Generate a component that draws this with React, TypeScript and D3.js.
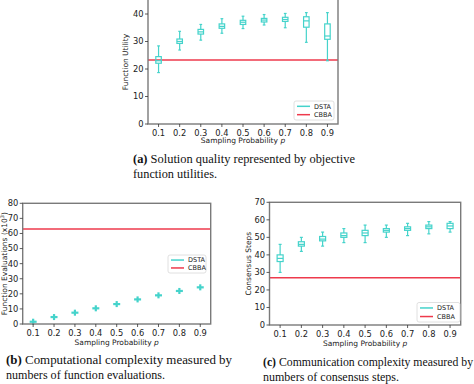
import React from 'react';
import * as d3 from 'd3';

const probs = [0.1, 0.2, 0.3, 0.4, 0.5, 0.6, 0.7, 0.8, 0.9];

// (a) function utility, boxplot stats
const utilMed = [23, 30, 33.5, 35.5, 37, 37.8, 38, 37.5, 32];
const utilQ1 = [22.1, 29.3, 32.7, 34.8, 36.2, 37.1, 37.3, 35.2, 30.8];
const utilQ3 = [24.5, 30.9, 34.4, 36.4, 37.7, 38.4, 38.8, 39, 36.4];
const utilLo = [18.7, 26.9, 30.5, 33, 34.7, 36, 35, 29.7, 23];
const utilHi = [28.4, 33.7, 36.2, 38.3, 39.2, 39.8, 40.2, 40.5, 40.5];
const cbbaUtil = 23.3;

// (b) function evaluations (x10^3)
const evalMed = [1.5, 4.6, 7.5, 10.4, 13.2, 16.3, 19.0, 21.9, 24.3];
const evalLo = [-0.5, 2.6, 5.5, 8.4, 11.2, 14.3, 17.0, 19.9, 22.3];
const evalHi = [3.5, 6.6, 9.5, 12.4, 15.2, 18.3, 21.0, 23.9, 26.3];
const cbbaEval = 63;

// (c) consensus steps
const stepsMed = [38, 46, 49, 51, 52.5, 54, 55, 56, 56.5];
const stepsQ1 = [36.2, 45, 48, 50, 51, 53, 54, 55, 55];
const stepsQ3 = [40, 47.5, 50.5, 52.5, 54, 55, 56, 57, 58];
const stepsLo = [30, 42, 45, 47, 47, 50, 51, 52, 53];
const stepsHi = [46, 50, 53, 55, 57, 57, 58, 59, 59];
const cbbaSteps = 27;

const utilTicks = [0, 10, 20, 30, 40];
const evalTicks = [0, 10, 20, 30, 40, 50, 60, 70, 80];
const stepsTicks = [0, 10, 20, 30, 40, 50, 60, 70];

const TEAL = '#45d3cb';
const RED = '#ee3a4c';
const FRAME = '#7a7a7a';
const SANS = 'DejaVu Sans, sans-serif';
const SERIF = 'Liberation Serif, DejaVu Serif, serif';

interface PanelProps {
  left: number; right: number; top: number; bottom: number;
  yScale: d3.ScaleLinear<number, number>;
  xScale: d3.ScaleLinear<number, number>;
  yTicks: number[];
  yLabel: React.ReactNode;
  yLabelX: number;
  xLabelY: number;
  cbba: number;
  boxes: { x: number; med: number; q1?: number; q3?: number; lo: number; hi: number }[];
  boxW: number;
  legend: { x: number; y: number; w: number; h: number };
  plus?: boolean;
}

const Panel: React.FC<PanelProps> = (p) => {
  const { xScale: x, yScale: y } = p;
  const midY = (Math.max(p.top, 0) + p.bottom) / 2;
  return (
    <g>
      {/* CBBA line */}
      <line x1={p.left} x2={p.right} y1={y(p.cbba)} y2={y(p.cbba)} stroke={RED} strokeWidth={1.5} />
      {/* DSTA boxes */}
      {p.boxes.map((b, i) => {
        const cx = x(b.x);
        const cap = p.boxW * 0.5;
        if (p.plus) {
          return (
            <g key={i} stroke={TEAL} strokeWidth={2.2}>
              <line x1={cx} x2={cx} y1={y(b.lo)} y2={y(b.hi)} />
              <line x1={cx - p.boxW / 2} x2={cx + p.boxW / 2} y1={y(b.med)} y2={y(b.med)} />
            </g>
          );
        }
        return (
          <g key={i} stroke={TEAL} strokeWidth={1.2} fill="none">
            <line x1={cx} x2={cx} y1={y(b.hi)} y2={y(b.q3!)} />
            <line x1={cx} x2={cx} y1={y(b.q1!)} y2={y(b.lo)} />
            <line x1={cx - cap / 2} x2={cx + cap / 2} y1={y(b.hi)} y2={y(b.hi)} />
            <line x1={cx - cap / 2} x2={cx + cap / 2} y1={y(b.lo)} y2={y(b.lo)} />
            <rect x={cx - p.boxW / 2} y={y(b.q3!)} width={p.boxW} height={y(b.q1!) - y(b.q3!)} />
            <line x1={cx - p.boxW / 2} x2={cx + p.boxW / 2} y1={y(b.med)} y2={y(b.med)} />
          </g>
        );
      })}
      {/* frame */}
      <rect x={p.left} y={p.top} width={p.right - p.left} height={p.bottom - p.top}
        fill="none" stroke={FRAME} strokeWidth={1.4} />
      {/* y ticks */}
      {p.yTicks.map(t => (
        <g key={t}>
          <line x1={p.left - 3} x2={p.left} y1={y(t)} y2={y(t)} stroke="#333" strokeWidth={0.8} />
          <text x={p.left - 4.5} y={y(t)} dy="0.35em" textAnchor="end" fontSize={8.3} fontFamily={SANS} fill="#222">{t}</text>
        </g>
      ))}
      {/* x ticks */}
      {probs.map((v, i) => {
        const px = x(p.boxes[i].x);
        return (
          <g key={v}>
            <line x1={px} x2={px} y1={p.bottom} y2={p.bottom + 3} stroke="#333" strokeWidth={0.8} />
            <text x={px} y={p.bottom + 11.5} textAnchor="middle" fontSize={8.3} fontFamily={SANS} fill="#222">{v.toFixed(1)}</text>
          </g>
        );
      })}
      <text x={(p.left + p.right) / 2} y={p.xLabelY} textAnchor="middle" fontSize={7.5} fontFamily={SANS} fill="#222">
        Sampling Probability <tspan fontStyle="italic">p</tspan>
      </text>
      <text transform={`translate(${p.yLabelX},${midY}) rotate(-90)`} textAnchor="middle" fontSize={7.5} fontFamily={SANS} fill="#222">
        {p.yLabel}
      </text>
      {/* legend */}
      <g>
        <rect x={p.legend.x} y={p.legend.y} width={p.legend.w} height={p.legend.h} rx={2}
          fill="white" stroke="#d8d8d8" strokeWidth={0.8} />
        <line x1={p.legend.x + 3} x2={p.legend.x + 16} y1={p.legend.y + p.legend.h * 0.28} y2={p.legend.y + p.legend.h * 0.28} stroke={TEAL} strokeWidth={1.5} />
        <line x1={p.legend.x + 3} x2={p.legend.x + 16} y1={p.legend.y + p.legend.h * 0.72} y2={p.legend.y + p.legend.h * 0.72} stroke={RED} strokeWidth={1.5} />
        <text x={p.legend.x + 20} y={p.legend.y + p.legend.h * 0.28} dy="0.35em" fontSize={6.5} fontFamily={SANS} fill="#222">DSTA</text>
        <text x={p.legend.x + 20} y={p.legend.y + p.legend.h * 0.72} dy="0.35em" fontSize={6.5} fontFamily={SANS} fill="#222">CBBA</text>
      </g>
    </g>
  );
};

const Caption: React.FC<{ x: number; y: number; tag: string; line1: string; line2: string; w1: number; w2: number }> = (c) => (
  <g fontFamily={SERIF} fontSize={11.5} fill="#111">
    <text x={c.x} y={c.y} textLength={c.w1} lengthAdjust="spacingAndGlyphs">
      <tspan fontWeight="bold">{c.tag}</tspan> {c.line1}
    </text>
    <text x={c.x} y={c.y + 15.5} textLength={c.w2} lengthAdjust="spacingAndGlyphs">{c.line2}</text>
  </g>
);

export default function App() {
  // (a)
  const aLeft = 148, aRight = 338, aBottom = 124, aTop = -6;
  const aX = d3.scaleLinear().domain([0.5, 9.5]).range([aLeft, aRight]);
  const aY = d3.scaleLinear().domain([0, 40]).range([aBottom, 14]);
  const aBoxes = probs.map((_, i) => ({ x: i + 1, med: utilMed[i], q1: utilQ1[i], q3: utilQ3[i], lo: utilLo[i], hi: utilHi[i] }));

  // (b)
  const bLeft = 22.7, bRight = 210.7, bBottom = 324, bTop = 203.3;
  const bX = d3.scaleLinear().domain([0.05, 0.95]).range([bLeft, bRight]);
  const bY = d3.scaleLinear().domain([0, 80]).range([bBottom, bTop]);
  const bBoxes = probs.map((v, i) => ({ x: v, med: evalMed[i], lo: evalLo[i], hi: evalHi[i] }));

  // (c)
  const cLeft = 269.5, cRight = 460.7, cBottom = 325, cTop = 202.3;
  const cX = d3.scaleLinear().domain([0.5, 9.5]).range([cLeft, cRight]);
  const cY = d3.scaleLinear().domain([0, 70]).range([cBottom, cTop]);
  const cBoxes = probs.map((_, i) => ({ x: i + 1, med: stepsMed[i], q1: stepsQ1[i], q3: stepsQ3[i], lo: stepsLo[i], hi: stepsHi[i] }));

  return (
    <svg width={474} height={384} style={{ position: 'absolute', left: 0, top: 0, background: 'white' }}>
      <Panel left={aLeft} right={aRight} top={aTop} bottom={aBottom} xScale={aX} yScale={aY}
        yTicks={utilTicks} yLabel="Function Utility" yLabelX={128} xLabelY={143}
        cbba={cbbaUtil} boxes={aBoxes} boxW={5.5}
        legend={{ x: 294, y: 101, w: 40, h: 19 }} />
      <Panel left={bLeft} right={bRight} top={bTop} bottom={bBottom} xScale={bX} yScale={bY}
        yTicks={evalTicks} yLabel={<>Function Evaluations (x10<tspan dy="-3" fontSize={5}>3</tspan><tspan dy="3">)</tspan></>}
        yLabelX={7} xLabelY={345}
        cbba={cbbaEval} boxes={bBoxes} boxW={7}
        plus
        legend={{ x: 168, y: 255, w: 38, h: 18 }} />
      <Panel left={cLeft} right={cRight} top={cTop} bottom={cBottom} xScale={cX} yScale={cY}
        yTicks={stepsTicks} yLabel="Consensus Steps" yLabelX={251} xLabelY={346}
        cbba={cbbaSteps} boxes={cBoxes} boxW={6}
        legend={{ x: 417, y: 302.5, w: 43, h: 19.5 }} />
      <Caption x={133} y={162.5} tag="(a)" line1="Solution quality represented by objective" line2="function utilities." w1={222} w2={84} />
      <Caption x={6} y={363.5} tag="(b)" line1="Computational complexity measured by" line2="numbers of function evaluations." w1={226} w2={159} />
      <Caption x={263} y={365.5} tag="(c)" line1="Communication complexity measured by" line2="numbers of consensus steps." w1={210} w2={136} />
    </svg>
  );
}
